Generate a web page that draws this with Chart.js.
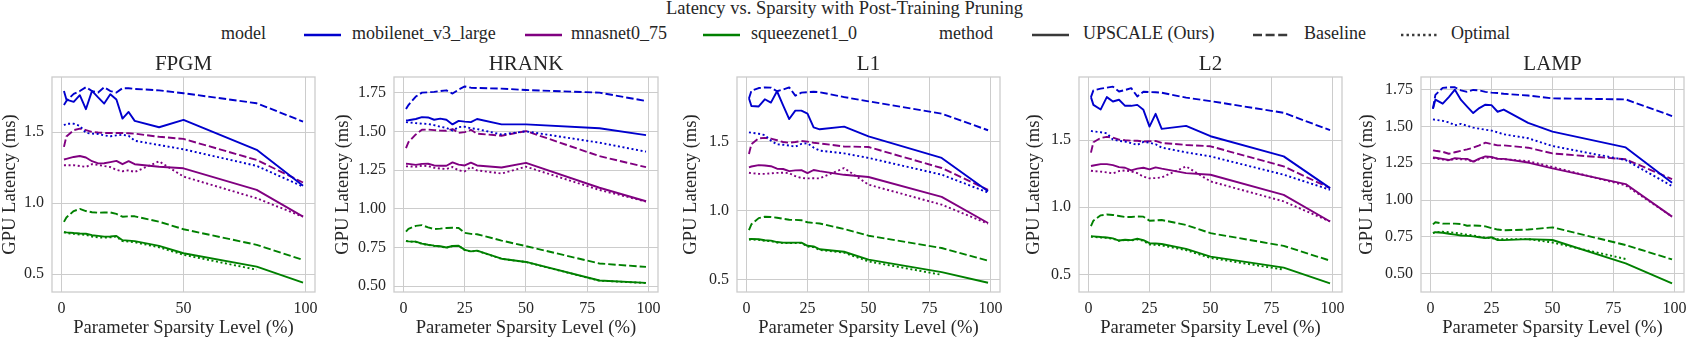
<!DOCTYPE html>
<html>
<head>
<meta charset="utf-8">
<script src="https://cdn.jsdelivr.net/npm/chart.js@4.4.1/dist/chart.umd.min.js"></script>
<style>
  body { margin: 0; background: #fff; width: 1689px; height: 339px; overflow: hidden; position: relative;
         font-family: 'Liberation Serif', serif; color: #262626; }
  .abs { position: absolute; white-space: nowrap; }
  #title { left: 0; width: 1689px; text-align: center; top: -2px; font-size: 18.5px; line-height: 20px; }
  .leg { top: 23px; font-size: 18px; line-height: 20px; }
  .sample { top: 32px; }
  .sub { font-size: 21px; line-height: 22px; text-align: center; top: 52px; z-index: 2; }
  canvas { position: absolute; }
</style>
</head>
<body>
<div id="title" class="abs">Latency vs. Sparsity with Post-Training Pruning</div>
<div id="legend"></div>
<div id="panels"></div>
<script>
// sparsity levels (x) shared by all panels
const sparsity = [1, 2, 5, 7.5, 10, 12.5, 15, 17.5, 20, 22.5, 25, 27.5, 30, 40, 50, 80, 99];

const methodsPruning = ["FPGM", "HRANK", "L1", "L2", "LAMP"];
const models = ["mobilenet_v3_large", "mnasnet0_75", "squeezenet1_0"];
const methods = ["UPSCALE (Ours)", "Baseline", "Optimal"];

// GPU latency (ms)
const fpgmMobUp   = [1.791, 1.730, 1.714, 1.761, 1.662, 1.791, 1.745, 1.702, 1.768, 1.730, 1.596, 1.643, 1.580, 1.535, 1.587, 1.376, 1.124];
const fpgmMobBase = [1.692, 1.720, 1.770, 1.790, 1.817, 1.790, 1.780, 1.817, 1.790, 1.780, 1.810, 1.810, 1.805, 1.795, 1.775, 1.704, 1.575];
const fpgmMobOpt  = [1.549, 1.560, 1.560, 1.545, 1.495, 1.490, 1.488, 1.478, 1.472, 1.478, 1.482, 1.475, 1.440, 1.410, 1.380, 1.263, 1.117];
const fpgmMnaUp   = [1.308, 1.313, 1.326, 1.333, 1.322, 1.296, 1.281, 1.282, 1.290, 1.298, 1.275, 1.296, 1.275, 1.257, 1.246, 1.094, 0.906];
const fpgmMnaBase = [1.397, 1.470, 1.515, 1.525, 1.515, 1.502, 1.498, 1.495, 1.495, 1.495, 1.495, 1.493, 1.490, 1.468, 1.453, 1.305, 1.146];
const fpgmMnaOpt  = [1.268, 1.268, 1.268, 1.262, 1.256, 1.275, 1.270, 1.262, 1.255, 1.235, 1.225, 1.232, 1.220, 1.295, 1.188, 1.035, 0.905];
const fpgmSqzUp   = [0.798, 0.795, 0.790, 0.787, 0.785, 0.775, 0.770, 0.765, 0.766, 0.770, 0.740, 0.737, 0.733, 0.700, 0.648, 0.554, 0.441];
const fpgmSqzBase = [0.869, 0.900, 0.945, 0.960, 0.945, 0.937, 0.933, 0.935, 0.935, 0.925, 0.905, 0.908, 0.908, 0.870, 0.817, 0.707, 0.601];
const fpgmSqzOpt  = [0.795, 0.790, 0.785, 0.780, 0.778, 0.765, 0.760, 0.758, 0.760, 0.765, 0.733, 0.730, 0.725, 0.690, 0.637, 0.532, null];

const hrankMobUp   = [1.571, 1.572, 1.580, 1.592, 1.590, 1.575, 1.582, 1.575, 1.545, 1.568, 1.563, 1.560, 1.580, 1.545, 1.545, 1.520, 1.476];
const hrankMobBase = [1.644, 1.670, 1.725, 1.750, 1.752, 1.755, 1.760, 1.765, 1.744, 1.770, 1.790, 1.782, 1.780, 1.776, 1.767, 1.750, 1.696];
const hrankMobOpt  = [1.560, 1.558, 1.553, 1.550, 1.548, 1.540, 1.530, 1.522, 1.505, 1.528, 1.530, 1.520, 1.515, 1.480, 1.500, 1.427, 1.369];
const hrankMnaUp   = [1.291, 1.290, 1.284, 1.290, 1.291, 1.280, 1.278, 1.278, 1.300, 1.285, 1.280, 1.298, 1.280, 1.267, 1.297, 1.136, 1.049];
const hrankMnaBase = [1.392, 1.430, 1.480, 1.510, 1.512, 1.508, 1.505, 1.504, 1.515, 1.490, 1.495, 1.510, 1.485, 1.472, 1.502, 1.340, 1.269];
const hrankMnaOpt  = [1.274, 1.274, 1.272, 1.278, 1.276, 1.265, 1.260, 1.257, 1.270, 1.248, 1.242, 1.270, 1.248, 1.228, 1.272, 1.122, 1.047];
const hrankSqzUp   = [0.793, 0.790, 0.788, 0.775, 0.768, 0.762, 0.758, 0.750, 0.760, 0.762, 0.735, 0.725, 0.730, 0.678, 0.657, 0.537, 0.522];
const hrankSqzBase = [0.853, 0.870, 0.890, 0.895, 0.880, 0.869, 0.872, 0.876, 0.878, 0.876, 0.845, 0.838, 0.836, 0.795, 0.759, 0.647, 0.625];
const hrankSqzOpt  = [0.792, 0.789, 0.787, 0.774, 0.767, 0.761, 0.757, 0.749, 0.759, 0.761, 0.734, 0.724, 0.729, 0.677, 0.656, 0.536, 0.521];

const l1MobUp   = [1.811, 1.755, 1.752, 1.804, 1.780, 1.862, 1.760, 1.661, 1.722, 1.722, 1.700, 1.601, 1.587, 1.606, 1.536, 1.380, 1.139];
const l1MobBase = [1.810, 1.865, 1.885, 1.890, 1.888, 1.862, 1.875, 1.890, 1.830, 1.852, 1.855, 1.858, 1.855, 1.820, 1.789, 1.700, 1.580];
const l1MobOpt  = [1.565, 1.562, 1.555, 1.545, 1.505, 1.478, 1.475, 1.470, 1.461, 1.482, 1.486, 1.455, 1.433, 1.413, 1.380, 1.259, 1.130];
const l1MnaUp   = [1.312, 1.318, 1.328, 1.325, 1.320, 1.302, 1.300, 1.285, 1.290, 1.292, 1.270, 1.293, 1.285, 1.258, 1.242, 1.098, 0.910];
const l1MnaBase = [1.408, 1.480, 1.522, 1.525, 1.520, 1.508, 1.495, 1.490, 1.495, 1.502, 1.498, 1.490, 1.485, 1.463, 1.459, 1.307, 1.150];
const l1MnaOpt  = [1.273, 1.270, 1.265, 1.265, 1.269, 1.272, 1.273, 1.270, 1.248, 1.235, 1.232, 1.233, 1.232, 1.307, 1.187, 1.042, 0.905];
const l1SqzUp   = [0.792, 0.795, 0.792, 0.785, 0.782, 0.772, 0.768, 0.767, 0.768, 0.768, 0.745, 0.740, 0.720, 0.702, 0.645, 0.555, 0.478];
const l1SqzBase = [0.859, 0.900, 0.945, 0.955, 0.953, 0.948, 0.940, 0.933, 0.932, 0.930, 0.915, 0.910, 0.906, 0.866, 0.818, 0.729, 0.637];
const l1SqzOpt  = [0.790, 0.790, 0.788, 0.780, 0.778, 0.768, 0.765, 0.764, 0.765, 0.765, 0.740, 0.735, 0.715, 0.695, 0.632, 0.535, null];

const l2MobUp   = [1.822, 1.764, 1.730, 1.822, 1.789, 1.802, 1.757, 1.757, 1.764, 1.727, 1.602, 1.697, 1.585, 1.607, 1.530, 1.380, 1.143];
const l2MobBase = [1.822, 1.872, 1.885, 1.893, 1.900, 1.864, 1.875, 1.889, 1.827, 1.862, 1.860, 1.858, 1.855, 1.818, 1.792, 1.705, 1.575];
const l2MobOpt  = [1.570, 1.566, 1.560, 1.552, 1.505, 1.495, 1.490, 1.478, 1.465, 1.488, 1.482, 1.470, 1.445, 1.410, 1.380, 1.243, 1.131];
const l2MnaUp   = [1.308, 1.312, 1.322, 1.322, 1.315, 1.300, 1.295, 1.275, 1.288, 1.295, 1.283, 1.298, 1.288, 1.255, 1.243, 1.093, 0.894];
const l2MnaBase = [1.408, 1.485, 1.518, 1.525, 1.520, 1.505, 1.500, 1.497, 1.496, 1.490, 1.493, 1.495, 1.480, 1.465, 1.455, 1.305, 1.143];
const l2MnaOpt  = [1.273, 1.270, 1.266, 1.260, 1.253, 1.270, 1.275, 1.268, 1.255, 1.228, 1.216, 1.218, 1.223, 1.305, 1.193, 1.044, 0.894];
const l2SqzUp   = [0.784, 0.783, 0.778, 0.775, 0.768, 0.752, 0.758, 0.755, 0.765, 0.755, 0.732, 0.730, 0.726, 0.690, 0.632, 0.550, 0.433];
const l2SqzBase = [0.859, 0.900, 0.940, 0.946, 0.943, 0.935, 0.928, 0.928, 0.932, 0.930, 0.900, 0.902, 0.905, 0.868, 0.807, 0.712, 0.602];
const l2SqzOpt  = [0.780, 0.779, 0.775, 0.772, 0.765, 0.750, 0.755, 0.752, 0.760, 0.750, 0.722, 0.720, 0.716, 0.680, 0.622, 0.535, null];

const lampMobUp   = [1.621, 1.682, 1.655, 1.700, 1.750, 1.680, 1.635, 1.591, 1.625, 1.648, 1.645, 1.600, 1.615, 1.525, 1.465, 1.358, 1.118];
const lampMobBase = [1.621, 1.715, 1.762, 1.766, 1.766, 1.745, 1.735, 1.748, 1.745, 1.735, 1.730, 1.727, 1.722, 1.710, 1.691, 1.684, 1.571];
const lampMobOpt  = [1.548, 1.545, 1.538, 1.528, 1.508, 1.518, 1.505, 1.492, 1.485, 1.478, 1.472, 1.460, 1.447, 1.420, 1.367, 1.272, 1.095];
const lampMnaUp   = [1.290, 1.288, 1.280, 1.272, 1.285, 1.282, 1.280, 1.262, 1.282, 1.297, 1.293, 1.280, 1.280, 1.255, 1.216, 1.109, 0.888];
const lampMnaBase = [1.338, 1.335, 1.328, 1.315, 1.325, 1.335, 1.345, 1.356, 1.372, 1.390, 1.380, 1.372, 1.372, 1.356, 1.317, 1.277, 1.143];
const lampMnaOpt  = [1.285, 1.283, 1.276, 1.270, 1.280, 1.277, 1.275, 1.260, 1.278, 1.290, 1.288, 1.282, 1.278, 1.265, 1.225, 1.100, 0.888];
const lampSqzUp   = [0.776, 0.782, 0.778, 0.772, 0.766, 0.760, 0.757, 0.754, 0.748, 0.742, 0.748, 0.728, 0.728, 0.735, 0.729, 0.570, 0.434];
const lampSqzBase = [0.835, 0.850, 0.840, 0.840, 0.840, 0.838, 0.826, 0.828, 0.826, 0.822, 0.810, 0.800, 0.795, 0.800, 0.815, 0.695, 0.597];
const lampSqzOpt  = [0.778, 0.782, 0.785, 0.782, 0.778, 0.772, 0.765, 0.760, 0.752, 0.745, 0.742, 0.735, 0.735, 0.735, 0.712, 0.600, null];

// tick labels
const xTicksFPGM = [0, 50, 100];
const xTicksOther = [0, 25, 50, 75, 100];
const yTickLabelsFPGM = ["0.5", "1.0", "1.5"];
const yTickLabelsHRANK = ["0.50", "0.75", "1.00", "1.25", "1.50", "1.75"];
const yTickLabelsL1 = ["0.5", "1.0", "1.5"];
const yTickLabelsL2 = ["0.5", "1.0", "1.5"];
const yTickLabelsLAMP = ["0.50", "0.75", "1.00", "1.25", "1.50", "1.75"];

const series = {
  FPGM:  [[fpgmMobUp, fpgmMobBase, fpgmMobOpt], [fpgmMnaUp, fpgmMnaBase, fpgmMnaOpt], [fpgmSqzUp, fpgmSqzBase, fpgmSqzOpt]],
  HRANK: [[hrankMobUp, hrankMobBase, hrankMobOpt], [hrankMnaUp, hrankMnaBase, hrankMnaOpt], [hrankSqzUp, hrankSqzBase, hrankSqzOpt]],
  L1:    [[l1MobUp, l1MobBase, l1MobOpt], [l1MnaUp, l1MnaBase, l1MnaOpt], [l1SqzUp, l1SqzBase, l1SqzOpt]],
  L2:    [[l2MobUp, l2MobBase, l2MobOpt], [l2MnaUp, l2MnaBase, l2MnaOpt], [l2SqzUp, l2SqzBase, l2SqzOpt]],
  LAMP:  [[lampMobUp, lampMobBase, lampMobOpt], [lampMnaUp, lampMnaBase, lampMnaOpt], [lampSqzUp, lampSqzBase, lampSqzOpt]]
};
const xTicksBy = { FPGM: xTicksFPGM, HRANK: xTicksOther, L1: xTicksOther, L2: xTicksOther, LAMP: xTicksOther };
const yLabelsBy = { FPGM: yTickLabelsFPGM, HRANK: yTickLabelsHRANK, L1: yTickLabelsL1, L2: yTickLabelsL2, LAMP: yTickLabelsLAMP };

// layout / style
const colors = ["#0000cd", "#800080", "#008000"];
const dashes = [[], [7.5, 3], [2, 2.6]];
const yRange = { FPGM: [0.375, 1.889], HRANK: [0.463, 1.851], L1: [0.411, 1.965], L2: [0.368, 1.972], LAMP: [0.376, 1.836] };
const boxes = [
  { ylab: 10, left: 52, right: 315 },
  { ylab: 343, left: 394, right: 658 },
  { ylab: 691, left: 737, right: 1000 },
  { ylab: 1034, left: 1079, right: 1342 },
  { ylab: 1367, left: 1421, right: 1684 }
];
const plotBottom = 292, canvasTop = 57, padTop = 20, padRight = 14;
const labelSize = 18.6, tickSize = 16;
const txt = "#262626", grid = "#cccccc";
const serif = "'Liberation Serif', serif";

// legend
const legend = document.getElementById("legend");
function addText(x, s) {
  const d = document.createElement("div");
  d.className = "abs leg"; d.style.left = x + "px"; d.textContent = s;
  legend.appendChild(d);
}
function addSample(x, color, dash) {
  const ns = "http://www.w3.org/2000/svg";
  const svg = document.createElementNS(ns, "svg");
  svg.setAttribute("class", "abs sample");
  svg.setAttribute("width", 37); svg.setAttribute("height", 6);
  svg.style.left = x + "px";
  const ln = document.createElementNS(ns, "line");
  ln.setAttribute("x1", 0); ln.setAttribute("x2", 37); ln.setAttribute("y1", 3); ln.setAttribute("y2", 3);
  ln.setAttribute("stroke", color); ln.setAttribute("stroke-width", 2.6);
  if (dash.length) ln.setAttribute("stroke-dasharray", dash.map(v => v * 1.2).join(" "));
  svg.appendChild(ln);
  legend.appendChild(svg);
}
addText(221, "model");
[[304, 352], [525, 571], [703, 751]].forEach((p, i) => { addSample(p[0], colors[i], []); addText(p[1], models[i]); });
addText(939, "method");
[[1032, 1083], [1253, 1304], [1401, 1451]].forEach((p, i) => { addSample(p[0], "#3a3a3a", dashes[i]); addText(p[1], methods[i]); });

// light grey box around each plot area
const frame = {
  id: "frame",
  beforeDatasetsDraw(chart) {
    const { ctx, chartArea: a } = chart;
    ctx.save();
    ctx.strokeStyle = grid; ctx.lineWidth = 1.3;
    ctx.strokeRect(a.left, a.top, a.right - a.left, a.bottom - a.top);
    ctx.restore();
  }
};

const charts = [];
const panelsDiv = document.getElementById("panels");
methodsPruning.forEach((name, k) => {
  const b = boxes[k];
  const L = b.ylab - Math.round(labelSize * 0.6);
  const W = b.right - L + padRight;
  const H = 339 - canvasTop;

  const t = document.createElement("div");
  t.className = "abs sub";
  t.style.left = b.left + "px"; t.style.width = (b.right - b.left) + "px";
  t.textContent = name;
  document.body.appendChild(t);

  const cv = document.createElement("canvas");
  cv.style.left = L + "px"; cv.style.top = canvasTop + "px";
  cv.style.width = W + "px"; cv.style.height = H + "px";
  cv.width = W; cv.height = H;
  panelsDiv.appendChild(cv);

  const datasets = [];
  series[name].forEach((trip, mi) => {
    trip.forEach((vals, si) => {
      datasets.push({
        label: models[mi] + " / " + methods[si],
        data: sparsity.map((x, i) => ({ x: x, y: vals[i] })),
        borderColor: colors[mi],
        borderWidth: 1.9,
        borderDash: dashes[si],
        borderJoinStyle: "round",
        pointRadius: 0,
        tension: 0,
        fill: false,
        spanGaps: false
      });
    });
  });

  const yLabels = yLabelsBy[name];
  const yVals = yLabels.map(Number);

  charts.push(new Chart(cv, {
    type: "line",
    data: { datasets: datasets },
    plugins: [frame],
    options: {
      responsive: false,
      animation: false,
      layout: { padding: { top: padTop, right: padRight, bottom: 0, left: 0 } },
      plugins: { legend: { display: false }, tooltip: { enabled: false } },
      scales: {
        x: {
          type: "linear", min: -3.9, max: 103.9,
          afterBuildTicks: s => { s.ticks = xTicksBy[name].map(v => ({ value: v })); },
          afterFit: s => { s.height = 339 - plotBottom; },
          grid: { color: grid, lineWidth: 1, drawTicks: false },
          border: { display: false },
          ticks: { color: txt, padding: 7, font: { family: serif, size: tickSize }, maxRotation: 0,
                   callback: v => String(v) },
          title: { display: true, text: "Parameter Sparsity Level (%)", color: txt, padding: 0,
                   font: { family: serif, size: labelSize } }
        },
        y: {
          type: "linear", min: yRange[name][0], max: yRange[name][1],
          afterBuildTicks: s => { s.ticks = yVals.map(v => ({ value: v })); },
          afterFit: s => { s.width = b.left - L; },
          grid: { color: grid, lineWidth: 1, drawTicks: false },
          border: { display: false },
          ticks: { color: txt, padding: 8, font: { family: serif, size: tickSize },
                   callback: v => yLabels[yVals.indexOf(v)] },
          title: { display: true, text: "GPU Latency (ms)", color: txt, padding: 0,
                   font: { family: serif, size: labelSize } }
        }
      }
    }
  }));
});

// redraw once the serif face is surely available
if (document.fonts && document.fonts.load) {
  document.fonts.load("16px 'Liberation Serif'").then(() => charts.forEach(c => c.update()));
}
</script>
</body>
</html>
